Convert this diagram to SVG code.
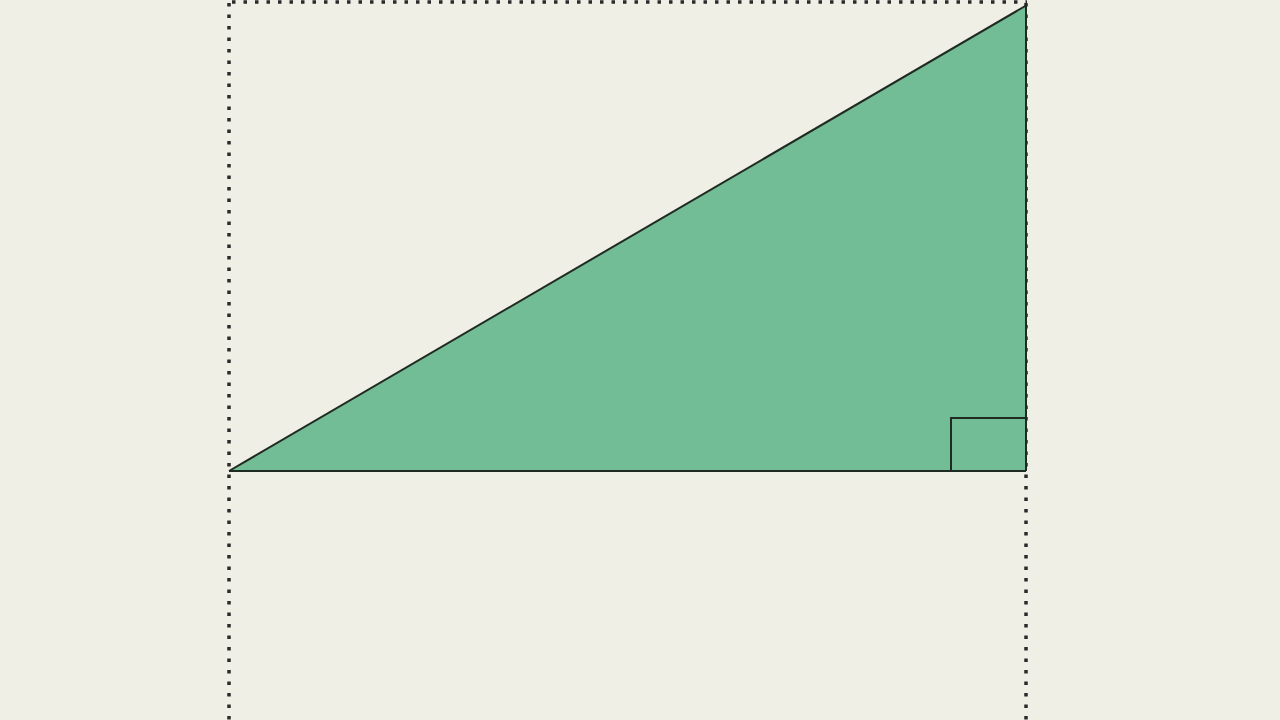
<svg xmlns="http://www.w3.org/2000/svg" width="1280" height="720" viewBox="0 0 1280 720">
<style>
.dot{stroke:#2a2a2a;stroke-width:3.5;stroke-dasharray:3.5 8;fill:none}
.edge{stroke:#1f2a22;stroke-width:2;fill:none}
</style>
<rect width="1280" height="720" fill="#f0efe5"/>
<g id="guides">
<line class="dot" x1="229" y1="3" x2="229" y2="720"/>
<line class="dot" x1="232" y1="2" x2="1027" y2="2"/>
<line class="dot" x1="1026" y1="3" x2="1026" y2="720"/>
</g>
<g id="triangle">
<polygon points="229,471 1027,5 1026,471" fill="#72bd95" stroke="none"/>
<line class="edge" x1="229" y1="471" x2="1027" y2="5"/>
<line class="edge" x1="229" y1="471" x2="1026" y2="471"/>
<line class="edge" x1="1026" y1="5" x2="1026" y2="471"/>
<polyline class="edge" points="951,471 951,418 1026,418"/>
</g>
</svg>
